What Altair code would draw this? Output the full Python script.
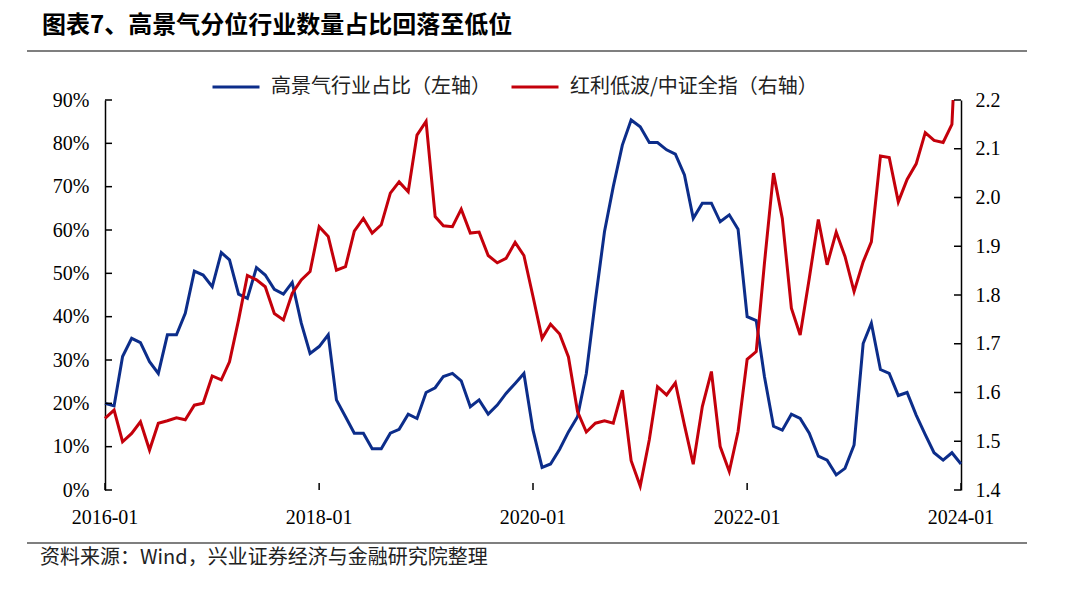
import altair as alt
import pandas as pd

# ---------------- data ----------------
title_text = "图表7、高景气分位行业数量占比回落至低位"
source_text = "资料来源：Wind，兴业证券经济与金融研究院整理"
blue_name = "高景气行业占比（左轴）"
red_name = "红利低波/中证全指（右轴）"

# monthly, 2016-01 .. 2024-01 (percent)
blue_values = [
    20.0, 19.4, 30.8, 35.0, 34.0, 29.6, 26.9, 35.8, 35.8, 40.8, 50.5, 49.6,
    46.9, 54.8, 53.1, 45.2, 44.2, 51.3, 49.6, 46.3, 45.2, 47.9, 38.5, 31.5,
    33.1, 35.8, 20.8, 16.9, 13.1, 13.1, 9.5, 9.5, 13.1, 14.0, 17.5, 16.5,
    22.5, 23.6, 26.2, 26.9, 25.2, 19.2, 20.8, 17.5, 19.6, 22.3, 24.6, 26.9,
    13.8, 5.2, 6.0, 9.4, 13.4, 16.9, 26.9, 43.8, 59.6, 70.0, 79.6, 85.4,
    83.8, 80.2, 80.2, 78.5, 77.5, 72.7, 62.7, 66.2, 66.2, 61.9, 63.5, 60.2,
    40.0, 39.1, 26.2, 14.7, 13.8, 17.5, 16.5, 13.1, 7.8, 6.9, 3.5, 5.0,
    10.4, 33.8, 38.5, 27.8, 26.9, 21.8, 22.5, 17.3, 12.8, 8.6, 6.9, 8.6,
    6.0,
]

# monthly, 2016-01 .. 2023-12, plus one last reading in early December 2023
red_values = [
    1.547, 1.564, 1.499, 1.516, 1.540, 1.482, 1.537, 1.542, 1.548, 1.544, 1.574, 1.578,
    1.634, 1.626, 1.663, 1.749, 1.840, 1.831, 1.817, 1.762, 1.749, 1.803, 1.831, 1.848,
    1.940, 1.920, 1.851, 1.858, 1.931, 1.957, 1.927, 1.944, 2.009, 2.032, 2.012, 2.128,
    2.156, 1.961, 1.942, 1.940, 1.976, 1.927, 1.929, 1.881, 1.866, 1.875, 1.908, 1.881,
    1.797, 1.711, 1.740, 1.720, 1.673, 1.561, 1.519, 1.537, 1.542, 1.537, 1.605, 1.460,
    1.408, 1.503, 1.612, 1.595, 1.620, 1.533, 1.453, 1.571, 1.643, 1.489, 1.438, 1.520,
    1.668, 1.684, 1.865, 2.050, 1.957, 1.773, 1.718, 1.834, 1.955, 1.862, 1.929, 1.879,
    1.807, 1.868, 1.909, 2.085, 2.082, 1.991, 2.037, 2.069, 2.133, 2.117, 2.113, 2.150,
]
red_extra_date = "2023-12-05"
red_extra_value = 2.20

x_tick_labels = ["2016-01", "2018-01", "2020-01", "2022-01", "2024-01"]
left_ticks = [0, 10, 20, 30, 40, 50, 60, 70, 80, 90]
right_ticks = [1.4, 1.5, 1.6, 1.7, 1.8, 1.9, 2.0, 2.1, 2.2]

BLUE = "#0c2d8a"
RED = "#c4000b"
W, H = 856, 390

blue_df = pd.DataFrame({
    "date": pd.date_range("2016-01-01", periods=len(blue_values), freq="MS"),
    "v": [b / 100 for b in blue_values],
    "s": blue_name,
})
red_df = pd.DataFrame({
    "date": list(pd.date_range("2016-01-01", periods=len(red_values), freq="MS"))
    + [pd.Timestamp(red_extra_date)],
    "v": red_values + [red_extra_value],
    "s": red_name,
})
xt_df = pd.DataFrame({
    "d": [pd.Timestamp(s + "-01") for s in x_tick_labels],
    "lab": x_tick_labels,
})

first_year = int(x_tick_labels[0][:4])
last_year = int(x_tick_labels[-1][:4])
x_domain = [alt.DateTime(year=first_year, month=1, date=1),
            alt.DateTime(year=last_year, month=1, date=1)]
x_scale = alt.Scale(domain=x_domain)
left_scale = alt.Scale(domain=[0, 0.9], nice=False, zero=False)
right_scale = alt.Scale(domain=[1.4, 2.2], nice=False, zero=False)
color_scale = alt.Scale(domain=[blue_name, red_name], range=[BLUE, RED])

SERIF = "Liberation Serif"
CJK = "Noto Sans CJK SC"

x_axis = alt.Axis(
    labels=False, ticks=False, domainColor="black", domainWidth=1.5,
    grid=False, title=None,
)
left_axis = alt.Axis(
    orient="left", values=[t / 100 for t in left_ticks], format=".0%",
    labelFont=SERIF, labelFontSize=20, labelColor="black", labelPadding=16,
    tickSize=0, domainColor="black", domainWidth=1.5, grid=False, title=None,
)
right_axis = alt.Axis(
    orient="right", values=right_ticks, format=".1f",
    labelFont=SERIF, labelFontSize=20, labelColor="black", labelPadding=14,
    tickSize=0, domainColor="black", domainWidth=1.5, grid=False, title=None,
)

legend = alt.Legend(
    orient="none", legendX=106, legendY=-38, direction="horizontal", title=None,
    symbolType="stroke", symbolSize=2209, symbolStrokeWidth=3,
    labelFont=CJK, labelFontSize=20, labelColor="#222", labelOffset=10,
    columnPadding=14, labelLimit=400, padding=0,
)

blue_line = alt.Chart(blue_df).mark_line(strokeWidth=3).encode(
    x=alt.X("date:T", scale=x_scale, axis=x_axis),
    y=alt.Y("v:Q", scale=left_scale, axis=left_axis),
    color=alt.Color("s:N", scale=color_scale, legend=legend),
)
red_line = alt.Chart(red_df).mark_line(strokeWidth=3).encode(
    x=alt.X("date:T", scale=x_scale, axis=None),
    y=alt.Y("v:Q", scale=right_scale, axis=right_axis),
    color=alt.Color("s:N", scale=color_scale, legend=None),
)

# inward-pointing tick marks, placed through the same scales as the axes
left_tick_marks = alt.Chart(pd.DataFrame({"t": [t / 100 for t in left_ticks]})).mark_rule(
    color="black", strokeWidth=1.5
).encode(
    y=alt.Y("t:Q", scale=left_scale, axis=None),
    x=alt.value(0), x2=alt.value(7),
)
right_tick_marks = alt.Chart(pd.DataFrame({"t": right_ticks})).mark_rule(
    color="black", strokeWidth=1.5
).encode(
    y=alt.Y("t:Q", scale=right_scale, axis=None),
    x=alt.value(W), x2=alt.value(W - 7),
)
x_tick_marks = alt.Chart(xt_df).mark_rule(color="black", strokeWidth=1.5).encode(
    x=alt.X("d:T", scale=x_scale, axis=None),
    y=alt.value(H), y2=alt.value(H - 7),
)
x_tick_text = alt.Chart(xt_df).mark_text(
    align="center", baseline="middle", font=SERIF, fontSize=20, color="black"
).encode(
    x=alt.X("d:T", scale=x_scale, axis=None),
    y=alt.value(H + 28),
    text="lab:N",
)

title_mark = alt.Chart(pd.DataFrame({"t": [title_text]})).mark_text(
    align="left", baseline="middle", font=CJK, fontSize=24, fontWeight="bold", color="black"
).encode(text="t:N", x=alt.value(-63), y=alt.value(-74))

source_mark = alt.Chart(pd.DataFrame({"t": [source_text]})).mark_text(
    align="left", baseline="middle", font=CJK, fontSize=20, color="#222"
).encode(text="t:N", x=alt.value(-65), y=alt.value(458))

top_rule = alt.Chart(pd.DataFrame({"a": [0]})).mark_rule(color="#555", strokeWidth=1.5).encode(
    x=alt.value(-78), x2=alt.value(922), y=alt.value(-49)
)
bottom_rule = alt.Chart(pd.DataFrame({"a": [0]})).mark_rule(color="#555", strokeWidth=1.5).encode(
    x=alt.value(-78), x2=alt.value(922), y=alt.value(443)
)

chart = alt.layer(
    blue_line, red_line, left_tick_marks, right_tick_marks, x_tick_marks, x_tick_text,
    title_mark, source_mark, top_rule, bottom_rule
).resolve_scale(y="independent").properties(
    width=W, height=H,
    autosize=alt.AutoSizeParams(type="none"),
    padding={"left": 97, "top": 92, "right": 111, "bottom": 98},
    background="white",
).configure_view(stroke=None)

chart.save("out.html", embed_options={"renderer": "svg", "actions": False})
